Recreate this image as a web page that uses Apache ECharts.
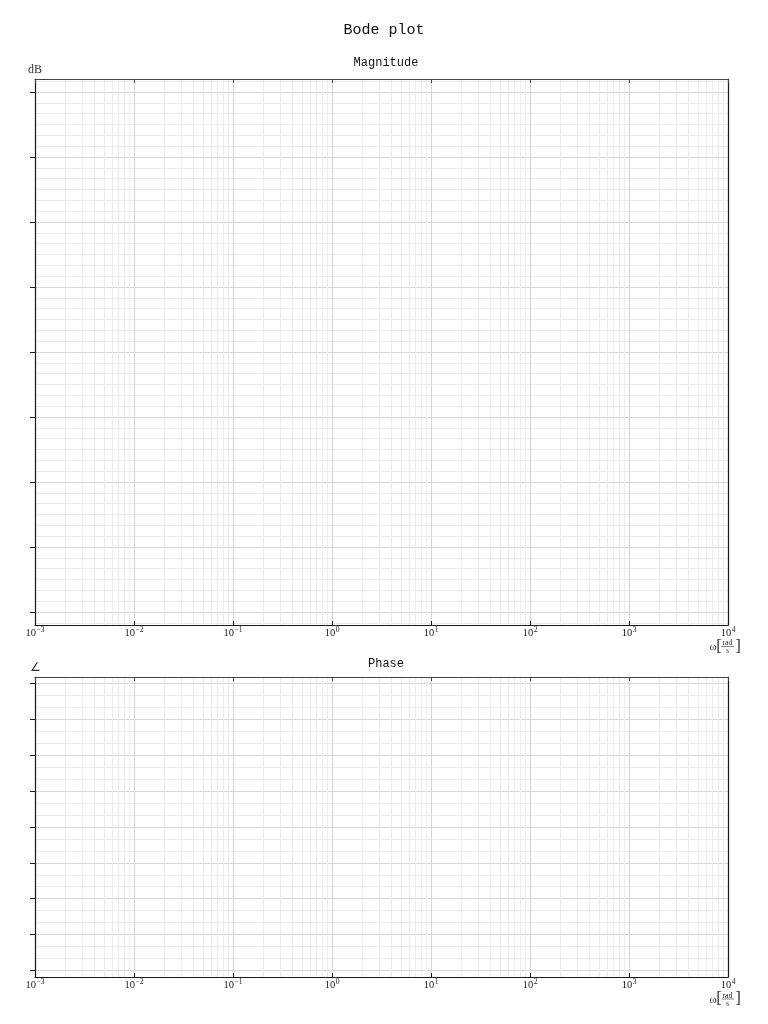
<!DOCTYPE html>
<html>
<head>
<meta charset="utf-8">
<script src="https://cdn.jsdelivr.net/npm/echarts@6/dist/echarts.min.js"></script>
<style>html,body{margin:0;padding:0;background:#fff;}#c{width:768px;height:1024px;}</style>
</head>
<body>
<div id="c"></div>
<script>
// ---- data (blank Bode plot template) ----
const decadeExponents = [-3, -2, -1, 0, 1, 2, 3, 4];            // x ticks: 10^n rad/s
const decadeSup = ['−3', '−2', '−1', '0', '1', '2', '3', '4'];  // superscripts of tick labels
const minorMultipliers = [2, 3, 4, 5, 6, 7, 8, 9];              // minor log lines per decade
const magMajorTicks = [-120, -90, -60, -30, 0, 30, 60, 90, 120]; // dB (unlabelled)
const magMinorStep = 5;
const magRange = [-126, 126];
const phaseMajorTicks = [-180, -135, -90, -45, 0, 45, 90, 135, 180]; // degrees (unlabelled)
const phaseMinorStep = 15;
const phaseRange = [-188.4, 188.4];
const magnitudeData = [];   // empty template
const phaseData = [];       // empty template

// ---- derived tick positions ----
const xMin = decadeExponents[0], xMax = decadeExponents[decadeExponents.length - 1];
const xMinor = [];
decadeExponents.slice(0, -1).forEach(d => minorMultipliers.forEach(m => xMinor.push(d + Math.log10(m))));
function minorVals(range, step, majors) {
  const out = [];
  for (let v = Math.ceil(range[0] / step) * step; v <= range[1]; v += step) {
    if (majors.indexOf(v) < 0) out.push(v);
  }
  return out;
}
const magMinor = minorVals(magRange, magMinorStep, magMajorTicks);
const phaseMinor = minorVals(phaseRange, phaseMinorStep, phaseMajorTicks);

const MAJOR = '#d6d6d6', MINOR = '#ececec', FRAME = '#1a1a1a';
const SERIF = 'Liberation Serif', MONO = 'Liberation Mono';

function xAxes(gridIndex) {
  return [
    { // minor vertical lines
      gridIndex, type: 'value', min: xMin, max: xMax,
      axisLine: { show: false, onZero: false }, axisLabel: { show: false },
      axisTick: { show: false, customValues: xMinor },
      splitLine: { show: true, lineStyle: { color: MINOR, width: 1 } }
    },
    { // main bottom axis
      gridIndex, type: 'value', min: xMin, max: xMax, interval: 1, position: 'bottom',
      axisLine: { show: true, onZero: false, lineStyle: { color: FRAME, width: 1.2 } },
      axisTick: { show: true, inside: true, length: 4, lineStyle: { color: FRAME } },
      axisLabel: {
        show: true, margin: 1, color: '#222',
        formatter: v => {
          const i = decadeExponents.indexOf(Math.round(v));
          return i < 0 ? '' : '{b|10}{s|' + decadeSup[i] + '}';
        },
        rich: {
          b: { fontFamily: SERIF, fontSize: 10.5, color: '#222', lineHeight: 13, verticalAlign: 'bottom' },
          s: { fontFamily: SERIF, fontSize: 7.5, color: '#222', lineHeight: 13, verticalAlign: 'top', padding: [0, 0, 0, 0.5] }
        }
      },
      splitLine: { show: true, lineStyle: { color: MAJOR, width: 1.2 } }
    },
    { // top frame
      gridIndex, type: 'value', min: xMin, max: xMax, interval: 1, position: 'top',
      axisLine: { show: true, onZero: false, lineStyle: { color: '#444', width: 1.2 } },
      axisTick: { show: true, inside: true, length: 4, lineStyle: { color: '#444' } },
      axisLabel: { show: false }, splitLine: { show: false }
    }
  ];
}
function yAxes(gridIndex, range, majors, minors, name) {
  return [
    {
      gridIndex, type: 'value', min: range[0], max: range[1],
      axisLine: { show: false, onZero: false }, axisLabel: { show: false },
      axisTick: { show: false, customValues: minors },
      splitLine: { show: true, lineStyle: { color: MINOR, width: 1 } }
    },
    {
      gridIndex, type: 'value', min: range[0], max: range[1], position: 'left',
      name: name, nameLocation: 'end', nameGap: 3,
      nameTextStyle: { fontFamily: SERIF, fontSize: 12, color: '#333', align: 'center', verticalAlign: 'bottom' },
      axisLine: { show: true, onZero: false, lineStyle: { color: FRAME, width: 1.2 } },
      axisTick: { show: true, inside: false, length: 5, customValues: majors, lineStyle: { color: FRAME } },
      axisLabel: { show: false },
      splitLine: { show: true, lineStyle: { color: MAJOR, width: 1.2 } }
    },
    {
      gridIndex, type: 'value', min: range[0], max: range[1], position: 'right',
      axisLine: { show: true, onZero: false, lineStyle: { color: FRAME, width: 1.2 } },
      axisTick: { show: false }, axisLabel: { show: false }, splitLine: { show: false }
    }
  ];
}

function omegaUnit(yc) {
  const f = { fontFamily: SERIF, fill: '#333' };
  return {
    type: 'group', children: [
      { type: 'text', x: 713, y: yc, style: Object.assign({ text: 'ω', fontSize: 11, align: 'center', verticalAlign: 'middle' }, f) },
      { type: 'text', x: 719, y: yc - 1, style: Object.assign({ text: '[', fontSize: 17, align: 'center', verticalAlign: 'middle' }, f) },
      { type: 'text', x: 727.5, y: yc - 4.5, style: Object.assign({ text: 'rad', fontSize: 8, align: 'center', verticalAlign: 'middle' }, f) },
      { type: 'line', shape: { x1: 721.5, y1: yc - 1, x2: 734, y2: yc - 1 }, style: { stroke: '#333', lineWidth: 0.6 } },
      { type: 'text', x: 727.5, y: yc + 3.5, style: Object.assign({ text: 's', fontSize: 8, align: 'center', verticalAlign: 'middle' }, f) },
      { type: 'text', x: 738, y: yc - 1, style: Object.assign({ text: ']', fontSize: 17, align: 'center', verticalAlign: 'middle' }, f) }
    ]
  };
}

const chart = echarts.init(document.getElementById('c'), null, { renderer: 'canvas' });
chart.setOption({
  backgroundColor: '#fff',
  animation: false,
  title: [
    { text: 'Bode plot', left: 'center', top: 18, textStyle: { fontFamily: MONO, fontSize: 15, fontWeight: 'normal', color: '#111' } },
    { text: 'Magnitude', left: 381, textAlign: 'center', top: 52, textStyle: { fontFamily: MONO, fontSize: 12, fontWeight: 'normal', color: '#111' } },
    { text: 'Phase', left: 381, textAlign: 'center', top: 653, textStyle: { fontFamily: MONO, fontSize: 12, fontWeight: 'normal', color: '#111' } }
  ],
  grid: [
    { left: 35, right: 40, top: 79, height: 546 },
    { left: 35, right: 40, top: 677, height: 300 }
  ],
  xAxis: xAxes(0).concat(xAxes(1)),
  yAxis: yAxes(0, magRange, magMajorTicks, magMinor, 'dB').concat(yAxes(1, phaseRange, phaseMajorTicks, phaseMinor, '∠')),
  series: [
    { type: 'line', xAxisIndex: 1, yAxisIndex: 1, data: magnitudeData, showSymbol: false },
    { type: 'line', xAxisIndex: 4, yAxisIndex: 4, data: phaseData, showSymbol: false }
  ],
  graphic: [omegaUnit(647.5), omegaUnit(1000)]
});
</script>
</body>
</html>
